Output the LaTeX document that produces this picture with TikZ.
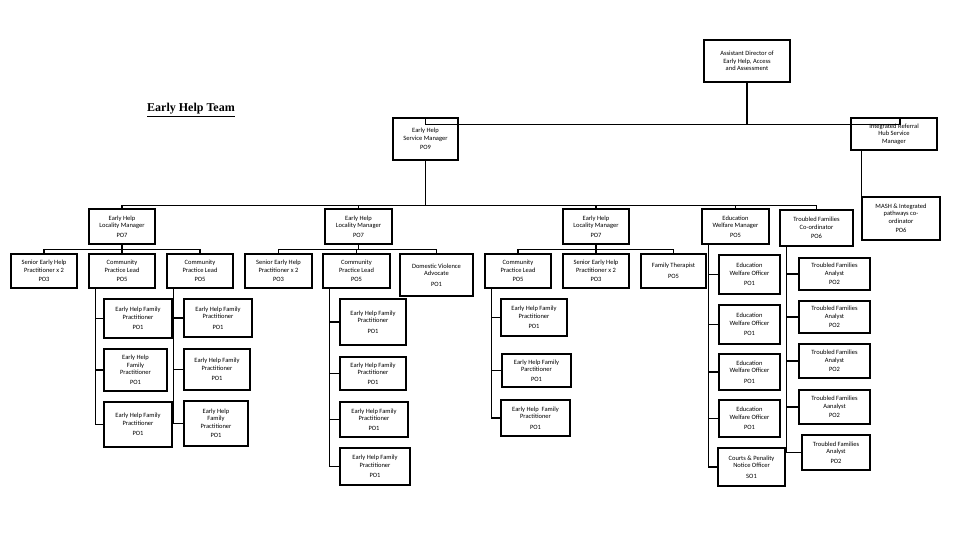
\documentclass[tikz,border=0pt]{standalone}
\usepackage{fontspec}
\setmainfont{Carlito}
\newfontfamily\titlefont{Liberation Serif}
\usetikzlibrary{positioning}
\tikzset{
box/.style={draw, line width=1.2pt, align=center, inner sep=1pt, font=\fontsize{6.5}{7.5}\selectfont}, % every post
link/.style={line width=1.2pt}, % the lines of the chart
}
\begin{document}
\begin{tikzpicture}[x=1pt,y=-1pt]
\useasboundingbox (0,0) rectangle (960,540);

\node[font=\titlefont\fontsize{12}{14}\selectfont\bfseries] (title) at (191,110) {\underline{Early Help Team}};

% top of the chart
\node[box, minimum width=86, minimum height=42] (ad) at (747,61) {Assistant Director of\\Early Help, Access\\and Assessment};
\node[box, minimum width=65, minimum height=42] (ehsm) at (425.5,139) {Early Help\\Service Manager\\[2pt]PO9};
\node[box, minimum width=86, minimum height=32] (ir) at (894,134) {Integrated Referral\\Hub Service\\Manager};
\node[box, minimum width=78, minimum height=43] (mash) at (901,218.5) {MASH \& Integrated\\pathways co-\\ordinator\\[2pt]PO6};

% managers
\node[box, minimum width=66, minimum height=35] (lm1) at (122,226.5) {Early Help\\Locality Manager\\[2pt]PO7};
\node[box, minimum width=67, minimum height=35] (lm2) at (358.5,226.5) {Early Help\\Locality Manager\\[2pt]PO7};
\node[box, minimum width=66, minimum height=35] (lm3) at (596,226.5) {Early Help\\Locality Manager\\[2pt]PO7};
\node[box, minimum width=67, minimum height=35] (ewm) at (735.5,226.5) {Education\\Welfare Manager\\[2pt]PO5};
\node[box, minimum width=73, minimum height=36] (tfc) at (816.5,228) {Troubled Families\\Co-ordinator\\[2pt]PO6};

% leads
\node[box, minimum width=66, minimum height=34] (sehp1) at (44,271) {Senior Early Help\\Practitioner x 2\\[2pt]PO3};
\node[box, minimum width=66, minimum height=34] (cpl1) at (122,271) {Community\\Practice Lead\\[2pt]PO5};
\node[box, minimum width=66, minimum height=34] (cpl2) at (200,271) {Community\\Practice Lead\\[2pt]PO5};
\node[box, minimum width=67, minimum height=34] (sehp2) at (278.5,271) {Senior Early Help\\Practitioner x 2\\[2pt]PO3};
\node[box, minimum width=67, minimum height=34] (cpl3) at (356.5,271) {Community\\Practice Lead\\[2pt]PO5};
\node[box, minimum width=73, minimum height=42] (dva) at (436.5,275) {Domestic Violence\\Advocate\\[3pt]PO1};
\node[box, minimum width=66, minimum height=34] (cpl4) at (518,271) {Community\\Practice Lead\\[2pt]PO5};
\node[box, minimum width=66, minimum height=34] (sehp3) at (596,271) {Senior Early Help\\Practitioner x 2\\[2pt]PO3};
\node[box, minimum width=65, minimum height=34] (ft) at (673.5,271) {Family Therapist\\[3pt]PO5};

% education welfare
\node[box, minimum width=61, minimum height=39] (ewo1) at (749.5,274.5) {Education\\Welfare Officer\\[3pt]PO1};
\node[box, minimum width=61, minimum height=39] (ewo2) at (749.5,324.5) {Education\\Welfare Officer\\[3pt]PO1};
\node[box, minimum width=61, minimum height=36] (ewo3) at (749.5,372) {Education\\Welfare Officer\\[3pt]PO1};
\node[box, minimum width=61, minimum height=37] (ewo4) at (749.5,418.5) {Education\\Welfare Officer\\[3pt]PO1};
\node[box, minimum width=67, minimum height=38] (cpno) at (751.5,467) {Courts \& Penality\\Notice Officer\\[3pt]SO1};

% troubled families
\node[box, minimum width=71, minimum height=32] (tfa1) at (834.5,274) {Troubled Families\\Analyst\\[2pt]PO2};
\node[box, minimum width=71, minimum height=32] (tfa2) at (834.5,317) {Troubled Families\\Analyst\\[2pt]PO2};
\node[box, minimum width=71, minimum height=34] (tfa3) at (834.5,361) {Troubled Families\\Analyst\\[2pt]PO2};
\node[box, minimum width=71, minimum height=34] (tfa4) at (834.5,407) {Troubled Families\\Aanalyst\\[2pt]PO2};
\node[box, minimum width=68, minimum height=35] (tfa5) at (836,452.5) {Troubled Families\\Analyst\\[2pt]PO2};

% family practitioners
\node[box, minimum width=68, minimum height=39] (f11) at (138,318.5) {Early Help Family\\Practitioner\\[3pt]PO1};
\node[box, minimum width=63, minimum height=42] (f12) at (135.5,370) {Early Help\\Family\\Practitioner\\[2pt]PO1};
\node[box, minimum width=68, minimum height=45] (f13) at (138,424.5) {Early Help Family\\Practitioner\\[3pt]PO1};
\node[box, minimum width=68, minimum height=38] (f21) at (218,318) {Early Help Family\\Practitioner\\[3pt]PO1};
\node[box, minimum width=66, minimum height=41] (f22) at (217,369.5) {Early Help Family\\Practitioner\\[3pt]PO1};
\node[box, minimum width=64, minimum height=45] (f23) at (216,423.5) {Early Help\\Family\\Practitioner\\[2pt]PO1};
\node[box, minimum width=66, minimum height=46] (f31) at (373,322) {Early Help Family\\Practitioner\\[3pt]PO1};
\node[box, minimum width=66, minimum height=33] (f32) at (373,373.5) {Early Help Family\\Practitioner\\[2pt]PO1};
\node[box, minimum width=68, minimum height=35] (f33) at (374,419.5) {Early Help Family\\Practitioner\\[2pt]PO1};
\node[box, minimum width=70, minimum height=37] (f34) at (375,466.5) {Early Help Family\\Practitioner\\[3pt]PO1};
\node[box, minimum width=66, minimum height=37] (f41) at (534,317.5) {Early Help Family\\Practitioner\\[3pt]PO1};
\node[box, minimum width=69, minimum height=33] (f42) at (536.5,370.5) {Early Help Family\\Parctitioner\\[2pt]PO1};
\node[box, minimum width=69, minimum height=36] (f43) at (535.5,418) {Early Help\ \ Family\\Practitioner\\[3pt]PO1};

% lines
\draw[link] (ad.south) -- ++(0,42) -| (ehsm.north);
\draw[link] (ad.south) -- ++(0,42) -| ([xshift=6pt]ir.north);
\draw[link] ([xshift=11pt]ir.south west) -- ([xshift=11pt]ir.south west |- mash.west);
\foreach \n in {lm1,lm2,lm3,ewm,tfc}
  \draw[link] (ehsm.south) -- ++(0,45) -| (\n.north);
\foreach \n in {sehp1,cpl1,cpl2}
  \draw[link] (lm1.south) -- ++(0,4.5) -| (\n.north);
\foreach \n in {sehp2,cpl3,dva}
  \draw[link] (lm2.south) -- ++(0,4.5) -| (\n.north);
\foreach \n in {cpl4,sehp3,ft}
  \draw[link] (lm3.south) -- ++(0,4.5) -| (\n.north);
\foreach \n in {f11,f12,f13}
  \draw[link] ([xshift=7pt]cpl1.south west) |- (\n.west);
\foreach \n in {f21,f22,f23}
  \draw[link] ([xshift=7pt]cpl2.south west) |- (\n.west);
\foreach \n in {f31,f32,f33,f34}
  \draw[link] ([xshift=7pt]cpl3.south west) |- (\n.west);
\foreach \n in {f41,f42,f43}
  \draw[link] ([xshift=7pt]cpl4.south west) |- (\n.west);
\foreach \n in {ewo1,ewo2,ewo3,ewo4,cpno}
  \draw[link] ([xshift=7pt]ewm.south west) |- (\n.west);
\foreach \n in {tfa1,tfa2,tfa3,tfa4,tfa5}
  \draw[link] ([xshift=7pt]tfc.south west) |- (\n.west);
\end{tikzpicture}
\end{document}
